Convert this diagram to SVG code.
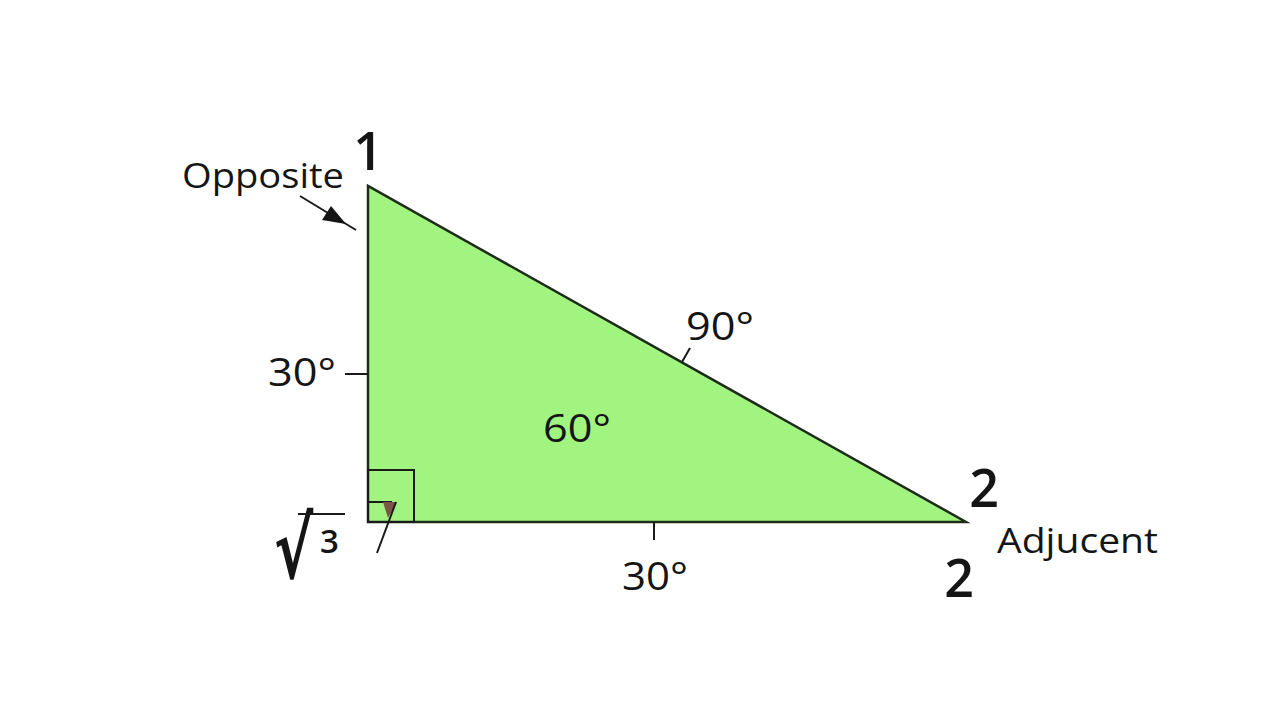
<svg xmlns="http://www.w3.org/2000/svg" width="1280" height="720" viewBox="0 0 1280 720">
<style>
.t{font-family:"Open Sans","Liberation Sans",sans-serif;fill:#151515;font-weight:500}
.b{font-family:"Open Sans","Liberation Sans",sans-serif;fill:#151515;font-weight:600}
.ln{stroke:#1a1a1a;stroke-width:2;fill:none}
</style>
<rect width="1280" height="720" fill="#ffffff"/>
<g id="triangle">
<polygon points="368,186 368,522 966,522" fill="#a0f47f" stroke="#1e2a1a" stroke-width="2.5" stroke-linejoin="miter"/>
<rect x="368" y="470" width="46" height="52" fill="none" stroke="#1a1a1a" stroke-width="2"/>
<line x1="368" y1="502" x2="392" y2="502" class="ln"/>
<polygon points="383,502 397,502 388,518" fill="#7a5646"/>
<line x1="396" y1="502" x2="377" y2="553" class="ln" stroke-width="2.5"/>
</g>
<g id="connectors">
<line x1="345" y1="374" x2="368" y2="374" class="ln" stroke-width="1.5"/>
<line x1="654" y1="522" x2="654" y2="540" class="ln" stroke-width="1.5"/>
<line x1="690" y1="348" x2="682" y2="362" class="ln" stroke-width="1.5"/>
<line x1="300" y1="196" x2="356" y2="230" class="ln" stroke-width="2.5"/>
<polygon points="346,224 322,220 331,206" fill="#151515"/>
</g>
<g id="labels">
<text class="b" x="368" y="170" font-size="52" text-anchor="middle">1</text>
<text class="t" x="182" y="188" font-size="34" textLength="162" lengthAdjust="spacingAndGlyphs">Opposite</text>
<text class="t" x="268" y="386" font-size="38" textLength="68" lengthAdjust="spacingAndGlyphs">30°</text>
<text class="t" x="686" y="340" font-size="38" textLength="68" lengthAdjust="spacingAndGlyphs">90°</text>
<text class="t" x="543" y="442" font-size="38" textLength="68" lengthAdjust="spacingAndGlyphs">60°</text>
<text class="t" x="622" y="590" font-size="38" textLength="66" lengthAdjust="spacingAndGlyphs">30°</text>
<text class="b" x="984" y="507" font-size="52" text-anchor="middle">2</text>
<text class="t" x="997" y="553" font-size="35" textLength="161" lengthAdjust="spacingAndGlyphs">Adjucent</text>
<text class="b" x="959" y="597" font-size="52" text-anchor="middle">2</text>
</g>
<g id="sqrt3">
<text transform="translate(274,578) scale(0.7,1)" x="0" y="0" font-size="84" font-weight="bold" fill="#151515" font-family="DejaVu Sans, sans-serif">√</text>
<line x1="298" y1="514" x2="345" y2="514" class="ln" stroke-width="5"/>
<text class="b" x="320" y="553" font-size="33">3</text>
</g>
</svg>
